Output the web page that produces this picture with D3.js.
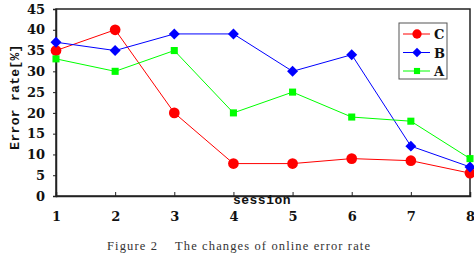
<!DOCTYPE html>
<html>
<head>
<meta charset="utf-8">
<script src="https://cdn.jsdelivr.net/npm/d3@7"></script>
<style>
  body { margin: 0; background: #fff; }
</style>
</head>
<body>
<svg id="chart"></svg>
<script>
// sessions on the x axis
var sessions = [1, 2, 3, 4, 5, 6, 7, 8];
// error rates per series
var seriesC = [35, 40, 20, 7.8, 7.8, 9, 8.5, 5.5];
var seriesB = [37, 35, 39, 39, 30, 34, 12, 7];
var seriesA = [33, 30, 35, 20, 25, 19, 18, 9];
var yTicks = [0, 5, 10, 15, 20, 25, 30, 35, 40, 45];

var series = [
  { name: "C", values: seriesC, color: "#ff0000", shape: d3.symbolCircle, size: 90, rot: 0 },
  { name: "B", values: seriesB, color: "#0000ff", shape: d3.symbolSquare, size: 60, rot: 45 },
  { name: "A", values: seriesA, color: "#00ff00", shape: d3.symbolSquare, size: 50, rot: 0 }
];

var W = 474, H = 253;
var margin = { top: 9, right: 4, bottom: 57, left: 56 },
  width = W - margin.left - margin.right,
  height = H - margin.top - margin.bottom;

var svg = d3.select("#chart").attr("width", W).attr("height", H);
var g = svg.append("g")
  .attr("transform", "translate(" + margin.left + "," + margin.top + ")");

var x = d3.scaleLinear().domain([1, 8]).range([0, width]);
var y = d3.scaleLinear().domain([0, 45]).range([height, 0]);

var tickFont = "'DejaVu Serif', serif";
var monoFont = "'Liberation Mono', monospace";

// frame
g.append("rect")
  .attr("width", width).attr("height", height)
  .attr("fill", "none").attr("stroke", "#222").attr("stroke-width", 1.5);

// x axis
var xAxis = g.append("g")
  .attr("transform", "translate(0," + height + ")")
  .call(d3.axisBottom(x).tickValues(sessions).tickFormat(d3.format("d")).tickSize(-4).tickPadding(16));
xAxis.select(".domain").attr("stroke", "#222").attr("stroke-width", 1.5);
xAxis.selectAll("line").attr("stroke", "#222");
xAxis.selectAll("text")
  .attr("font-family", tickFont).attr("font-weight", "bold").attr("font-size", 13).attr("fill", "#111");

// y axis
var yAxis = g.append("g")
  .call(d3.axisLeft(y).tickValues(yTicks).tickSize(3).tickPadding(8));
yAxis.select(".domain").attr("stroke", "#222").attr("stroke-width", 1.5);
yAxis.selectAll("line").attr("stroke", "#222");
yAxis.selectAll("text")
  .attr("font-family", tickFont).attr("font-weight", "bold").attr("font-size", 13).attr("fill", "#111");

// lines and markers
var line = d3.line()
  .x(function (d, i) { return x(sessions[i]); })
  .y(function (d) { return y(d); });

series.forEach(function (s) {
  g.append("path")
    .datum(s.values)
    .attr("fill", "none")
    .attr("stroke", s.color)
    .attr("stroke-width", 1)
    .attr("d", line);
  g.selectAll(".pt-" + s.name)
    .data(s.values)
    .enter()
    .append("path")
    .attr("class", "pt-" + s.name)
    .attr("transform", function (d, i) {
      return "translate(" + x(sessions[i]) + "," + y(d) + ") rotate(" + s.rot + ")";
    })
    .attr("d", d3.symbol().type(s.shape).size(s.size))
    .attr("fill", s.color);
});

// legend
var lg = svg.append("g").attr("transform", "translate(399,23)");
lg.append("rect")
  .attr("width", 48).attr("height", 56)
  .attr("fill", "#fff").attr("stroke", "#555").attr("stroke-width", 1);
series.forEach(function (s, i) {
  var yy = 11 + i * 18.5;
  lg.append("line")
    .attr("x1", 4).attr("x2", 31).attr("y1", yy).attr("y2", yy)
    .attr("stroke", s.color).attr("stroke-width", 1);
  lg.append("path")
    .attr("transform", "translate(18," + yy + ") rotate(" + s.rot + ")")
    .attr("d", d3.symbol().type(s.shape).size(s.size * 0.75))
    .attr("fill", s.color);
  lg.append("text")
    .attr("x", 35).attr("y", yy + 5)
    .attr("font-family", tickFont).attr("font-weight", "bold").attr("font-size", 13)
    .attr("fill", "#111")
    .text(s.name);
});

// axis titles
svg.append("text")
  .attr("transform", "translate(19,97) rotate(-90)")
  .attr("text-anchor", "middle")
  .attr("font-family", monoFont)
  .attr("font-weight", "bold").attr("font-size", 13).attr("fill", "#111")
  .attr("letter-spacing", 0.3)
  .text("Error rate[%]");

svg.append("text")
  .attr("x", 262).attr("y", 204)
  .attr("text-anchor", "middle")
  .attr("font-family", monoFont)
  .attr("font-weight", "bold").attr("font-size", 13).attr("fill", "#111")
  .attr("letter-spacing", 0.5)
  .text("session");

// caption
svg.append("text")
  .attr("x", 107).attr("y", 250)
  .attr("font-family", "'Liberation Serif', serif")
  .attr("font-size", 12.5).attr("fill", "#333")
  .attr("textLength", 263).attr("lengthAdjust", "spacing")
  .text("Figure 2\u00a0\u00a0\u00a0\u00a0The changes of online error rate");
</script>
</body>
</html>
